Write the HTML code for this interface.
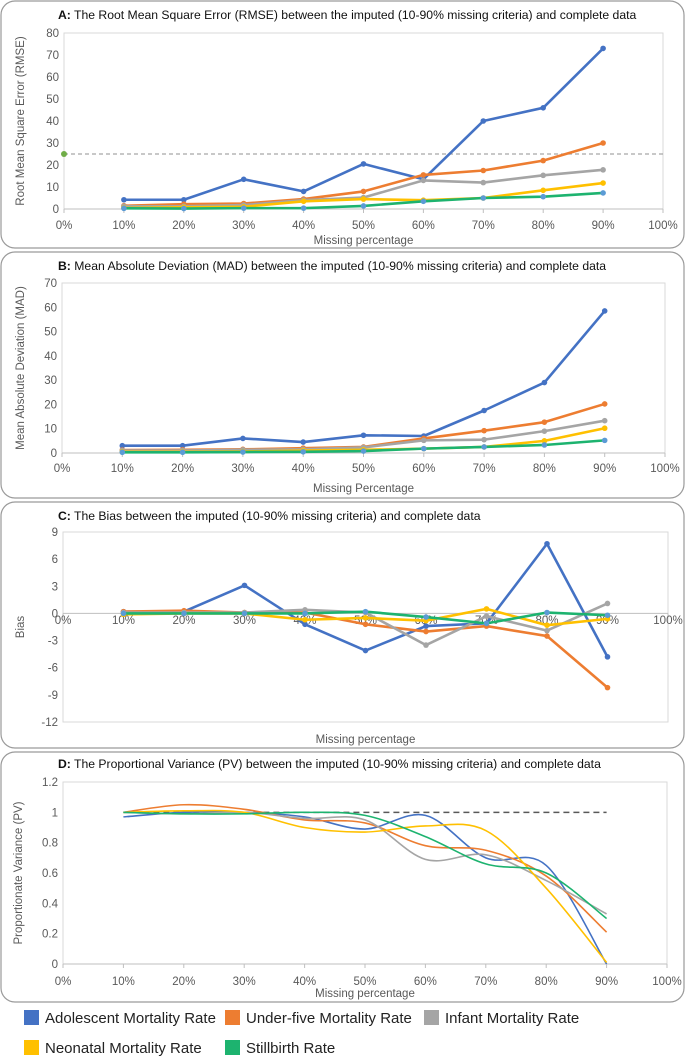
<!DOCTYPE html>
<html><head><meta charset="utf-8"><style>
body{margin:0;background:#fff;font-family:"Liberation Sans",sans-serif}
svg text{font-family:"Liberation Sans",sans-serif}
</style></head><body>
<svg id="c" width="685" height="1057" xmlns="http://www.w3.org/2000/svg"></svg>
<script>
const xCats=["10%","20%","30%","40%","50%","60%","70%","80%","90%"];
const xCatVals=[10,20,30,40,50,60,70,80,90];
const xTicks=["0%","10%","20%","30%","40%","50%","60%","70%","80%","90%","100%"];
const seriesNames=["Adolescent Mortality Rate","Under-five Mortality Rate","Infant Mortality Rate","Neonatal Mortality Rate","Stillbirth Rate"];
const seriesColors=["#4472C4","#ED7D31","#A5A5A5","#FFC000","#1DB36F"];
const markerColors=["#4472C4","#ED7D31","#A5A5A5","#FFC000","#5B9BD5"];
const rmseAdol=[4.2,4.2,13.5,8,20.5,13.5,40,46,73];
const rmseU5=[1.5,2.2,2.5,4.5,8,15.5,17.5,22,30];
const rmseInf=[1.2,1.2,1.8,4,5.2,13,12,15.3,17.8];
const rmseNeo=[0.5,0.8,1,3.5,4.5,4,5,8.5,11.8];
const rmseStill=[0.3,0.2,0.4,0.4,1.4,3.5,5,5.6,7.3];
const rmseThreshold=25;
const madAdol=[3,3,6,4.5,7.3,7,17.5,29,58.5];
const madU5=[1.2,1.3,1.5,2,2.5,6,9.2,12.7,20.2];
const madInf=[1,1,1.3,1.5,2.3,5.2,5.5,9,13.3];
const madNeo=[0.5,0.5,0.6,1,1.3,1.8,2.5,5,10.2];
const madStill=[0.3,0.3,0.4,0.5,0.8,1.8,2.5,3.3,5.2];
const biasAdol=[0.2,0.2,3.1,-1.2,-4.1,-1.4,-1.1,7.7,-4.8];
const biasU5=[0.2,0.3,0.1,0.1,-1.2,-2,-1.4,-2.5,-8.2];
const biasInf=[0.1,0.1,0.1,0.4,0.1,-3.5,-0.3,-1.9,1.1];
const biasNeo=[-0.1,0,0,-0.7,-0.5,-0.8,0.5,-1.3,-0.6];
const biasStill=[0,0,0,0,0.2,-0.4,-1.1,0.1,-0.2];
const pvAdol=[0.97,1.0,1.0,0.97,0.89,0.98,0.70,0.65,0.0];
const pvU5=[1.0,1.05,1.02,0.95,0.93,0.78,0.75,0.58,0.21];
const pvInf=[1.0,0.99,1.0,0.96,0.95,0.69,0.72,0.55,0.33];
const pvNeo=[1.0,1.01,1.0,0.9,0.87,0.91,0.88,0.5,0.01];
const pvStill=[1.0,0.99,0.99,1.0,0.98,0.84,0.66,0.6,0.3];
const pvRef=1;
const yTicksA=[0,10,20,30,40,50,60,70,80];
const yTicksB=[0,10,20,30,40,50,60,70];
const yTicksC=[-12,-9,-6,-3,0,3,6,9];
const yTicksD=[0,0.2,0.4,0.6,0.8,1,1.2];

const NS="http://www.w3.org/2000/svg";
const svg=document.getElementById('c');
function mk(tag,attrs,parent){const e=document.createElementNS(NS,tag);for(const k in attrs)e.setAttribute(k,attrs[k]);(parent||svg).appendChild(e);return e;}
function txt(s,attrs,parent){const e=mk('text',attrs,parent);e.textContent=s;return e;}

function panel(cfg){
  const g=mk('g',{});
  
  
  const box=mk('rect',{x:1,y:cfg.by,width:683,height:cfg.bh,rx:14,fill:'#fff',stroke:'#9a9a9a','stroke-width':1.2},g);
  
  const t=txt('',{x:cfg.titleX,y:cfg.titleY,'font-size':12.2,fill:'#111'},g);
  
  const b=mk('tspan',{'font-weight':'bold'},t);b.textContent=cfg.letter;
  const r=mk('tspan',{},t);r.textContent=cfg.title;
  const xs=v=>cfg.x0+(cfg.x1-cfg.x0)*v/100;
  const ys=v=>cfg.y0+(cfg.y1-cfg.y0)*(v-cfg.ymin)/(cfg.ymax-cfg.ymin);
  // frame
  const fr=mk('rect',{x:cfg.x0,y:cfg.y1,width:cfg.x1-cfg.x0,height:cfg.y0-cfg.y1,fill:'none',stroke:'#d9d9d9'},g);
  
  cfg.yTicks.forEach(v=>{
    const l=txt(String(v),{x:cfg.x0-5,y:ys(v)+4,'font-size':11.5,fill:'#595959','text-anchor':'end'},g);
    
  });
  const zy=ys(cfg.axisAt);
  const ax=mk('line',{x1:cfg.x0,x2:cfg.x1,y1:zy,y2:zy,stroke:'#bfbfbf'},g);
  
  xTicks.forEach((s,i)=>{
    const x=xs(i*10);
    mk('line',{x1:x,x2:x,y1:zy,y2:zy+4,stroke:'#bfbfbf'},g);
    const l=txt(s,{x:x,y:cfg.xLabY,'font-size':11.5,fill:'#595959','text-anchor':'middle'},g);
    
  });
  const xt=txt(cfg.xTitle,{x:(cfg.x0+cfg.x1)/2,y:cfg.xTitleY,'font-size':11.5,fill:'#595959','text-anchor':'middle'},g);
  
  const yc=(cfg.y0+cfg.y1)/2;
  const yt=txt(cfg.yTitle,{x:cfg.yTitleX,y:yc,'font-size':11.5,fill:'#595959','text-anchor':'middle',transform:`rotate(-90 ${cfg.yTitleX} ${yc})`},g);
  
  if(cfg.refLine!=null){
    const rl=mk('line',{x1:xs(cfg.refFrom),x2:xs(cfg.refTo),y1:ys(cfg.refLine),y2:ys(cfg.refLine),stroke:cfg.refColor,'stroke-width':cfg.refW,'stroke-dasharray':cfg.refDash},g);
    
    if(cfg.refDot){const d=mk('circle',{cx:xs(0),cy:ys(cfg.refLine),r:3,fill:'#70AD47'},g);
      }
  }
  cfg.series.forEach((vals,si)=>{
    const pts=vals.map((v,i)=>[xs(xCatVals[i]),ys(v)]);
    let d;
    if(cfg.smooth){
      d='M'+pts[0][0]+','+pts[0][1];
      for(let i=0;i<pts.length-1;i++){
        const p0=pts[Math.max(0,i-1)],p1=pts[i],p2=pts[i+1],p3=pts[Math.min(pts.length-1,i+2)];
        const c1=[p1[0]+(p2[0]-p0[0])/6,p1[1]+(p2[1]-p0[1])/6];
        const c2=[p2[0]-(p3[0]-p1[0])/6,p2[1]-(p3[1]-p1[1])/6];
        d+=` C${c1[0]},${c1[1]} ${c2[0]},${c2[1]} ${p2[0]},${p2[1]}`;
      }
    } else d='M'+pts.map(p=>p.join(',')).join(' L');
    const p=mk('path',{d:d,fill:'none',stroke:seriesColors[si],'stroke-width':cfg.smooth?1.6:2.6,'stroke-linejoin':'round'},g);
    
    if(!cfg.smooth) pts.forEach(pt=>{
      const c=mk('circle',{cx:pt[0],cy:pt[1],r:2.8,fill:markerColors[si]},g);
      
    });
  });
}
panel({name:'rmse-panel',letter:'A:',title:' The Root Mean Square Error (RMSE) between the imputed (10-90% missing criteria) and complete data',by:1,bh:247,titleX:58,titleY:19,x0:64,x1:663,y0:209,y1:33,ymin:0,ymax:80,yTicks:yTicksA,axisAt:0,xLabY:229,xTitle:'Missing percentage',xTitleY:244,yTitle:'Root Mean Square Error (RMSE)',yTitleX:24,series:[rmseAdol,rmseU5,rmseInf,rmseNeo,rmseStill],refLine:rmseThreshold,refFrom:0,refTo:100,refColor:'#a6a6a6',refW:1.2,refDash:'4 3',refDot:true});
panel({name:'mad-panel',letter:'B:',title:' Mean Absolute Deviation (MAD) between the imputed (10-90% missing criteria) and complete data',by:252,bh:246,titleX:58,titleY:270,x0:62,x1:665,y0:453,y1:283,ymin:0,ymax:70,yTicks:yTicksB,axisAt:0,xLabY:472,xTitle:'Missing Percentage',xTitleY:492,yTitle:'Mean Absolute Deviation (MAD)',yTitleX:24,series:[madAdol,madU5,madInf,madNeo,madStill]});
panel({name:'bias-panel',letter:'C:',title:' The Bias between the imputed (10-90% missing criteria) and complete data',by:502,bh:246,titleX:58,titleY:520,x0:63,x1:668,y0:722,y1:532,ymin:-12,ymax:9,yTicks:yTicksC,axisAt:0,xLabY:624,xTitle:'Missing percentage',xTitleY:743,yTitle:'Bias',yTitleX:24,series:[biasAdol,biasU5,biasInf,biasNeo,biasStill]});
panel({name:'pv-panel',letter:'D:',title:' The Proportional Variance (PV) between the imputed (10-90% missing criteria) and complete data',by:752,bh:250,titleX:58,titleY:768,x0:63,x1:667,y0:964,y1:782,ymin:0,ymax:1.2,yTicks:yTicksD,axisAt:0,xLabY:985,xTitle:'Missing percentage',xTitleY:997,yTitle:'Proportionate Variance (PV)',yTitleX:22,series:[pvAdol,pvU5,pvInf,pvNeo,pvStill],smooth:true,refLine:pvRef,refFrom:10,refTo:90,refColor:'#595959',refW:1.5,refDash:'6 4'});
// legend
const lg=mk('g',{});


const legPos=[[24,1010],[225,1010],[424,1010],[24,1040],[225,1040]];
seriesNames.forEach((n,i)=>{
  const [x,y]=legPos[i];
  const s=mk('rect',{x:x,y:y,width:15,height:15,fill:seriesColors[i]},lg);
  
  
  const t=txt(n,{x:x+21,y:y+13,'font-size':15,fill:'#222'},lg);
  
  
});
</script>
</body></html>
